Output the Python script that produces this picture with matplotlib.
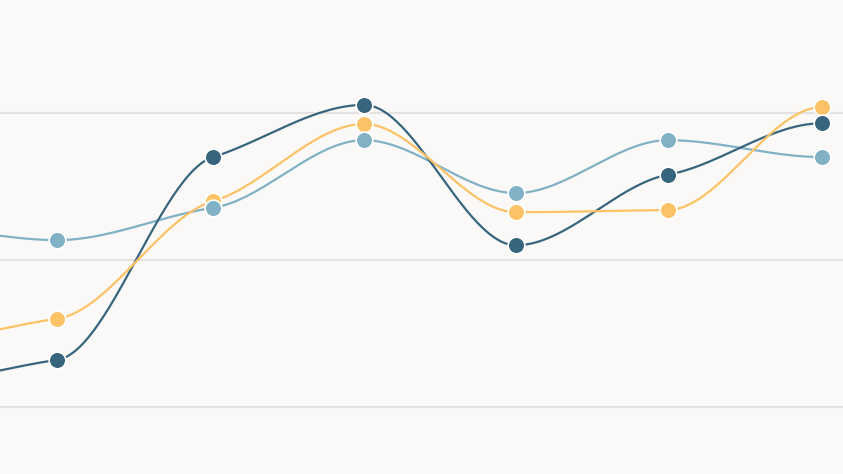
import numpy as np
import matplotlib
matplotlib.use("Agg")
import matplotlib.pyplot as plt

# x positions of the periods (first one sits just off the left edge)
x = [-95, 57, 213, 364, 516, 668, 822]

dark = [23.2, 26.4, 54.0, 61.1, 42.0, 51.6, 58.6]
yellow = [28.8, 32.0, 48.0, 58.5, 46.5, 46.8, 60.8]
light = [44.6, 42.7, 47.1, 56.3, 49.1, 56.3, 54.0]

grid_vals = [20, 40, 60]

colors = {'dark': '#37657d', 'yellow': '#fdc266', 'light': '#80b1c4'}


def smooth_line(xs, ys, k=0.45, n=60):
    """monotone cubic through the points, soft tangents, flat ends"""
    xs = np.asarray(xs, float)
    ys = np.asarray(ys, float)
    h = np.diff(xs)
    s = np.diff(ys) / h
    m = np.zeros(len(xs))
    for i in range(1, len(xs) - 1):
        p = (s[i - 1] * h[i] + s[i] * h[i - 1]) / (h[i - 1] + h[i])
        m[i] = (np.sign(s[i - 1]) + np.sign(s[i])) * min(abs(s[i - 1]), abs(s[i]), 0.5 * abs(p))
    m = m * k
    outx, outy = [], []
    for i in range(len(xs) - 1):
        t = np.linspace(0, 1, n)
        h00 = 2 * t**3 - 3 * t**2 + 1
        h10 = t**3 - 2 * t**2 + t
        h01 = -2 * t**3 + 3 * t**2
        h11 = t**3 - t**2
        outx.append(xs[i] + t * h[i])
        outy.append(h00 * ys[i] + h10 * h[i] * m[i] + h01 * ys[i + 1] + h11 * h[i] * m[i + 1])
    return np.concatenate(outx), np.concatenate(outy)


fig = plt.figure(figsize=(8.43, 4.74), dpi=100)
fig.patch.set_facecolor('#faf9f8')
ax = fig.add_axes([0, 0, 1, 1])
ax.set_facecolor('#faf9f8')

for g in grid_vals:
    ax.axhline(g, color='#e4e2e0', lw=1.5, zorder=1)

series = [('light', light, 2.1, 3.3), ('dark', dark, 2.2, 3.2), ('yellow', yellow, 2.3, 3.1)]
for name, ys, zl, zm in series:
    cx, cy = smooth_line(x, ys)
    ax.plot(cx, cy, color=colors[name], lw=1.6, zorder=zl, solid_capstyle='round')
    ax.plot(x, ys, 'o', color=colors[name], ms=12, mec='white', mew=1.2, zorder=zm)

ax.set_xlim(0, 843)
ax.set_ylim(10.88, 75.37)
ax.axis('off')

fig.savefig('out.png', dpi=100, facecolor=fig.get_facecolor())
